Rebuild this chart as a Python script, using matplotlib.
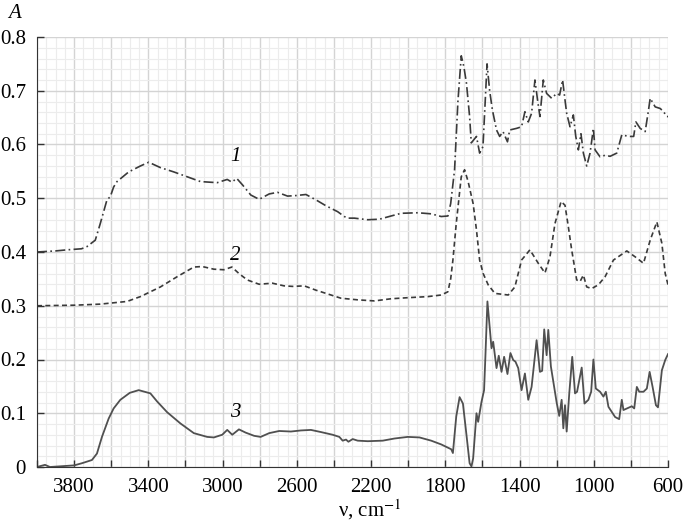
from matplotlib import pyplot as plt
from matplotlib.ticker import MultipleLocator, FuncFormatter

plt.rcParams['font.family'] = ['Liberation Serif', 'DejaVu Serif']
plt.rcParams['mathtext.fontset'] = 'stix'

# Spectrum 1 (dash-dot)
nu1 = [4000, 3900, 3839, 3760, 3731, 3686, 3659, 3623, 3605, 3587, 3569, 3506, 3443, 3398, 3335, 3263, 3191, 3119,
       3029, 2975, 2950, 2924, 2893, 2848, 2803, 2749, 2704, 2650, 2605, 2551, 2497, 2443, 2380, 2344, 2326, 2290,
       2218, 2155, 2092, 2038, 1948, 1876, 1822, 1786, 1771, 1750, 1732, 1714, 1700, 1686, 1669, 1660, 1632, 1615,
       1597, 1585, 1575, 1561, 1546, 1524, 1507, 1489, 1465, 1453, 1416, 1389, 1371, 1353, 1335, 1317, 1303, 1290,
       1272, 1254, 1227, 1200, 1184, 1168, 1155, 1146, 1128, 1110, 1097, 1083, 1069, 1056, 1038, 1020, 1002, 993,
       966, 939, 912, 876, 849, 812, 785, 773, 750, 723, 705, 696, 669, 642, 624, 606, 600]
A1 = [0.400, 0.402, 0.404, 0.406, 0.410, 0.422, 0.453, 0.497, 0.503, 0.521, 0.531, 0.549, 0.560, 0.567, 0.557, 0.549, 0.540, 0.531,
      0.529, 0.535, 0.530, 0.537, 0.525, 0.506, 0.498, 0.508, 0.511, 0.504, 0.505, 0.507, 0.497, 0.486, 0.475, 0.466, 0.463, 0.463,
      0.460, 0.461, 0.467, 0.472, 0.473, 0.471, 0.466, 0.467, 0.490, 0.553, 0.680, 0.765, 0.745, 0.714, 0.652, 0.603, 0.615, 0.584,
      0.596, 0.680, 0.750, 0.700, 0.664, 0.627, 0.615, 0.624, 0.605, 0.627, 0.630, 0.633, 0.661, 0.642, 0.658, 0.720, 0.683, 0.652,
      0.720, 0.695, 0.686, 0.695, 0.692, 0.720, 0.683, 0.658, 0.633, 0.655, 0.615, 0.590, 0.620, 0.584, 0.560, 0.584, 0.630, 0.590,
      0.577, 0.580, 0.578, 0.584, 0.618, 0.615, 0.615, 0.642, 0.630, 0.624, 0.664, 0.686, 0.670, 0.667, 0.661, 0.652, 0.652]

# Spectrum 2 (dashed)
nu2 = [4000, 3800, 3660, 3515, 3443, 3335, 3245, 3155, 3110, 3047, 2993, 2950, 2912, 2867, 2803, 2732, 2669, 2623,
       2560, 2497, 2434, 2362, 2272, 2182, 2092, 2002, 1894, 1822, 1786, 1771, 1759, 1741, 1714, 1696, 1677, 1650,
       1632, 1615, 1596, 1569, 1533, 1461, 1425, 1389, 1344, 1299, 1263, 1236, 1209, 1176, 1155, 1137, 1119, 1092,
       1074, 1056, 1038, 1011, 975, 939, 894, 822, 777, 732, 696, 660, 633, 615, 600]
A2 = [0.300, 0.301, 0.303, 0.308, 0.317, 0.335, 0.354, 0.372, 0.373, 0.368, 0.367, 0.372, 0.360, 0.348, 0.340, 0.342, 0.337, 0.336,
      0.337, 0.329, 0.322, 0.314, 0.311, 0.309, 0.313, 0.315, 0.317, 0.320, 0.326, 0.350, 0.385, 0.453, 0.540, 0.553, 0.531, 0.490,
      0.441, 0.385, 0.360, 0.339, 0.323, 0.320, 0.335, 0.385, 0.404, 0.379, 0.361, 0.391, 0.453, 0.494, 0.487, 0.447, 0.404, 0.348,
      0.345, 0.357, 0.335, 0.332, 0.339, 0.354, 0.385, 0.402, 0.391, 0.379, 0.422, 0.456, 0.416, 0.360, 0.339]

# Spectrum 3 (solid)
nu3 = [4000, 3957, 3930, 3800, 3758, 3704, 3677, 3650, 3614, 3587, 3551, 3500, 3452, 3389, 3353, 3299, 3227, 3155,
       3083, 3047, 3002, 2975, 2948, 2912, 2876, 2830, 2795, 2749, 2695, 2632, 2578, 2524, 2470, 2407, 2371, 2353,
       2335, 2322, 2299, 2272, 2218, 2137, 2074, 2002, 1939, 1876, 1822, 1768, 1759, 1741, 1723, 1705, 1687, 1669,
       1659, 1650, 1632, 1623, 1605, 1591, 1584, 1573, 1561, 1551, 1542, 1524, 1512, 1497, 1483, 1465, 1449, 1434,
       1422, 1407, 1389, 1371, 1353, 1335, 1308, 1290, 1278, 1267, 1254, 1245, 1231, 1200, 1186, 1173, 1164, 1155,
       1146, 1132, 1116, 1101, 1090, 1065, 1050, 1029, 1014, 1002, 989, 966, 948, 935, 921, 885, 863, 849,
       840, 795, 782, 768, 755, 732, 714, 699, 683, 665, 654, 633, 615, 600]
A3 = [0.000, 0.004, 0.000, 0.003, 0.007, 0.013, 0.025, 0.056, 0.090, 0.109, 0.125, 0.138, 0.143, 0.137, 0.122, 0.102, 0.081, 0.063,
      0.056, 0.055, 0.060, 0.069, 0.060, 0.070, 0.064, 0.058, 0.056, 0.063, 0.067, 0.066, 0.068, 0.069, 0.065, 0.060, 0.056, 0.049,
      0.051, 0.047, 0.052, 0.049, 0.048, 0.049, 0.053, 0.056, 0.055, 0.049, 0.042, 0.033, 0.026, 0.094, 0.130, 0.118, 0.063, 0.007,
      0.001, 0.016, 0.100, 0.084, 0.121, 0.143, 0.205, 0.308, 0.261, 0.221, 0.233, 0.184, 0.207, 0.177, 0.205, 0.173, 0.212, 0.199,
      0.196, 0.184, 0.143, 0.174, 0.125, 0.149, 0.236, 0.177, 0.179, 0.256, 0.208, 0.255, 0.187, 0.120, 0.095, 0.125, 0.072, 0.115,
      0.066, 0.137, 0.205, 0.137, 0.140, 0.185, 0.118, 0.125, 0.140, 0.200, 0.146, 0.140, 0.131, 0.140, 0.112, 0.093, 0.089, 0.125,
      0.106, 0.113, 0.109, 0.149, 0.140, 0.140, 0.146, 0.177, 0.149, 0.115, 0.111, 0.180, 0.199, 0.210]

curve_labels = ['1', '2', '3']
label_pos = [(2930, 0.577), (2930, 0.393), (2930, 0.102)]

fig = plt.figure(figsize=(6.85, 5.26), dpi=100)
ax = fig.add_axes([37 / 685, 59 / 526, 631 / 685, 430 / 526])

ax.plot(nu1, A1, color='#3a3a3a', lw=1.2, linestyle=(0, (6, 2, 1, 2)))
ax.plot(nu2, A2, color='#3a3a3a', lw=1.2, linestyle=(0, (3, 2)))
ax.plot(nu3, A3, color='#505050', lw=1.3, linestyle='-')

for lbl, (xx, yy) in zip(curve_labels, label_pos):
    ax.text(xx, yy, lbl, fontsize=15, style='italic', ha='center', va='center')

ax.set_xlim(4000, 600)
ax.set_ylim(0, 0.8)

# ticks every 200 cm-1, labels every 400
ax.xaxis.set_major_locator(MultipleLocator(200))
ax.xaxis.set_minor_locator(MultipleLocator(50))
ax.xaxis.set_major_formatter(FuncFormatter(lambda v, p: '%d' % v if round(v - 600) % 400 == 0 else ''))
ax.yaxis.set_major_locator(MultipleLocator(0.1))
ax.yaxis.set_minor_locator(MultipleLocator(0.02))
ax.yaxis.set_major_formatter(FuncFormatter(lambda v, p: '0' if abs(v) < 1e-9 else '%.1f' % v))

ax.tick_params(which='major', direction='in', length=5, width=1, color='#333333', labelsize=15)
ax.tick_params(axis='y', which='major', pad=8)
ax.tick_params(axis='x', which='major', pad=8)
ax.tick_params(which='minor', length=0)

ax.grid(which='major', color='#d4d4d4', lw=1.0)
ax.grid(which='minor', color='#ececec', lw=0.8)
ax.set_axisbelow(True)

ax.spines['top'].set_visible(False)
ax.spines['right'].set_visible(False)
ax.spines['left'].set_color('#333333')
ax.spines['bottom'].set_color('#333333')

fig.text(15 / 685, 1 - 13 / 526, 'A', fontsize=15, style='italic', ha='center', va='center')
fig.text(370 / 685, 1 - 510 / 526, r'ν, cm$^{-1}$', fontsize=15, ha='center', va='center')

fig.savefig('out.png', dpi=100)
